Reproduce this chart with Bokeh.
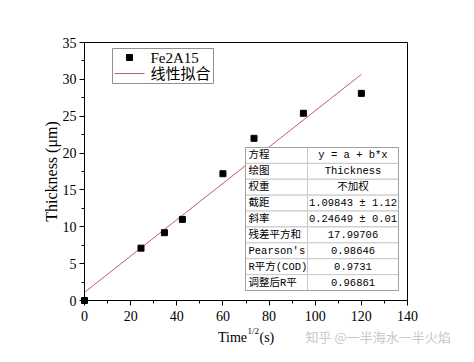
from bokeh.plotting import figure
from bokeh.models import Range1d, SingleIntervalTicker, ColumnDataSource
from bokeh.core.properties import value
from bokeh.embed import file_html
from bokeh.resources import INLINE

# ---- data ----
time_sqrt = [0.0, 24.49, 34.64, 42.43, 60.0, 73.48, 94.87, 120.0]
thickness = [0.0, 7.1, 9.2, 11.0, 17.2, 22.0, 25.4, 28.1]
fit_intercept = 1.09843
fit_slope = 0.24649
table_names = ["方程", "绘图", "权重", "截距", "斜率", "残差平方和", "Pearson's", "R平方(COD)", "调整后R平"]
table_values = ["y = a + b*x", "Thickness", "不加权", "1.09843 ± 1.12", "0.24649 ± 0.01",
                "17.99706", "0.98646", "0.9731", "0.96861"]
series_name = "Fe2A15"
fit_name = "线性拟合"
x_label_parts = ["Time", "1/2", "(s)"]
y_label = "Thickness (μm)"
watermark = "知乎 @一半海水一半火焰"
x_ticks_interval = 20
y_ticks_interval = 5
x_max = 140
y_max = 35

# ---- layout constants (picture pixels) ----
W, H = 458, 346
FL, FT, FR, FB = 84, 42, 407, 300  # frame edges


def px2x(px):
    return (px - FL) / (FR - FL) * x_max


def py2y(py):
    return (FB - py) / (FB - FT) * y_max


SERIF = "Liberation Serif"
MIX = "Liberation Serif, Noto Sans CJK SC"
MONO = "Liberation Mono, Noto Sans CJK SC"

p = figure(width=W, height=H, output_backend="svg", toolbar_location=None,
           x_range=Range1d(0, x_max), y_range=Range1d(0, y_max),
           min_border_left=FL, min_border_top=FT,
           min_border_right=W - FR, min_border_bottom=H - FB)
p.background_fill_color = "white"
p.border_fill_color = "white"
p.outline_line_color = "black"
p.outline_line_width = 1
p.grid.visible = False

p.xaxis.ticker = SingleIntervalTicker(interval=x_ticks_interval, num_minor_ticks=2)
p.yaxis.ticker = SingleIntervalTicker(interval=y_ticks_interval, num_minor_ticks=2)
for ax in (p.xaxis[0], p.yaxis[0]):
    ax.axis_line_color = "black"
    ax.major_tick_line_color = "black"
    ax.minor_tick_line_color = "black"
    ax.major_tick_out = 5
    ax.major_tick_in = 0
    ax.minor_tick_out = 3
    ax.minor_tick_in = 0
    ax.major_label_text_font = SERIF
    ax.major_label_text_font_size = "14px"
    ax.major_label_text_color = "black"
p.xaxis.major_label_standoff = 5
p.yaxis.major_label_standoff = 3

p.yaxis.axis_label = y_label
p.yaxis.axis_label_text_font = SERIF
p.yaxis.axis_label_text_font_size = "16px"
p.yaxis.axis_label_text_font_style = "normal"
p.yaxis.axis_label_text_color = "black"
p.yaxis.axis_label_standoff = 0

# x-axis label with superscript: unclipped text glyphs below the frame
xl_src = ColumnDataSource(dict(x=[px2x(246.5), px2x(247), px2x(259)],
                               y=[py2y(337), py2y(330), py2y(337)],
                               t=x_label_parts,
                               s=["14px", "9px", "14px"],
                               a=["right", "left", "left"]))
p.text(x="x", y="y", text="t", source=xl_src, text_font=value(SERIF), text_font_size="s",
       text_align="a", text_baseline="alphabetic", text_color="black", level="overlay")

# fit line
fit_x = [0.0, max(time_sqrt)]
fit_y = [fit_intercept + fit_slope * v for v in fit_x]
p.line(fit_x, fit_y, line_color="#c06060", line_width=1)

# statistics table
n = len(table_names)
t_left, t_right, t_div, t_top, t_bot = 245, 398, 307, 147, 290
rh = (t_bot - t_top) / n
tops = [py2y(t_top + i * rh) for i in range(n)]
bots = [py2y(t_top + (i + 1) * rh) for i in range(n)]
mids = [py2y(t_top + (i + 0.5) * rh) for i in range(n)]
p.quad(left=px2x(t_left), right=px2x(t_div), top=tops, bottom=bots,
       fill_color="white", line_color="#c8c8c8", line_width=1)
p.quad(left=px2x(t_div), right=px2x(t_right), top=tops, bottom=bots,
       fill_color="white", line_color="#c8c8c8", line_width=1)
p.quad(left=[px2x(t_left)], right=[px2x(t_right)], top=[py2y(t_top)], bottom=[py2y(t_bot)],
       fill_color=None, line_color="#a0a0a0", line_width=1)
tsrc = ColumnDataSource(dict(names=table_names, vals=table_values, y=mids,
                             xl=[px2x(t_left + 3)] * n, xr=[px2x((t_div + t_right) / 2)] * n))
p.text(x="xl", y="y", text="names", source=tsrc, text_font=value(MONO),
       text_font_size="10.5px", text_align="left", text_baseline="middle", text_color="black")
p.text(x="xr", y="y", text="vals", source=tsrc, text_font=value(MONO),
       text_font_size="10.5px", text_align="center", text_baseline="middle", text_color="black")

# data points
p.scatter(time_sqrt, thickness, marker="square", size=6, fill_color="black",
          line_color="black", level="overlay")

# legend (drawn by hand for exact row spacing)
lg_l, lg_r, lg_t, lg_b = 112, 213, 48, 83
p.quad(left=[px2x(lg_l)], right=[px2x(lg_r)], top=[py2y(lg_t)], bottom=[py2y(lg_b)],
       fill_color="white", line_color="#909090", line_width=1)
p.scatter([px2x(129)], [py2y(57)], marker="square", size=6, fill_color="black", line_color="black")
p.line([px2x(114), px2x(144)], [py2y(73), py2y(73)], line_color="#c06060", line_width=1)
lsrc = ColumnDataSource(dict(x=[px2x(150)] * 2, y=[py2y(57), py2y(73)], t=[series_name, fit_name]))
p.text(x="x", y="y", text="t", source=lsrc, text_font=value(MIX), text_font_size="15px",
       text_align="left", text_baseline="middle", text_color="black")

# watermark (unclipped text glyph)
wsrc = ColumnDataSource(dict(x=[px2x(305)], y=[py2y(336)], t=[watermark]))
p.text(x="x", y="y", text="t", source=wsrc, text_font=value("Noto Sans CJK SC"),
       text_font_size="13px", text_color="#c8c8c8", text_align="left",
       text_baseline="middle", level="overlay")

open("out.html", "w").write(file_html(p, INLINE))
